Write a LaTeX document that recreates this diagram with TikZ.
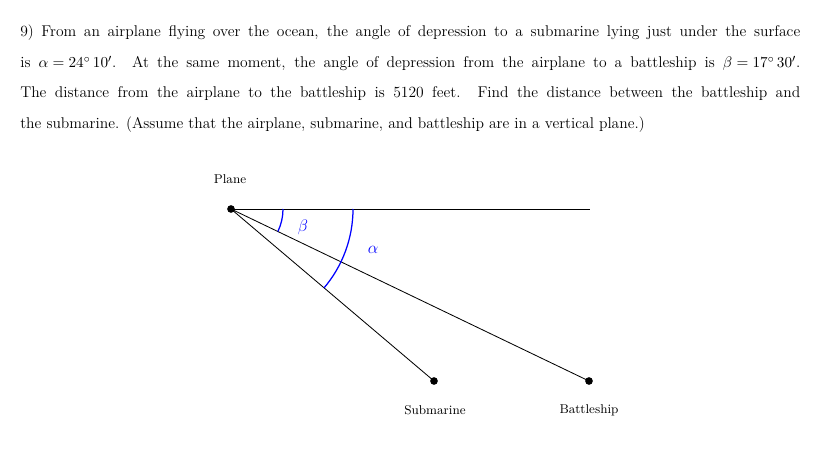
\documentclass[tikz,border=0pt]{standalone}
\begin{document}
\begin{tikzpicture}[x=0.72pt,y=-0.72pt,
  txt/.style={anchor=base west,inner sep=0pt,font=\fontsize{11.2}{12}\selectfont},
  lbl/.style={font=\fontsize{9.2}{11}\selectfont,inner sep=0pt},
  glbl/.style={blue,inner sep=0pt,font=\fontsize{12.5}{13}\selectfont},
  dot/.style={circle,fill=black,inner sep=0pt,minimum size=5.5pt},
  arc/.style={blue,line width=0.9pt}]
\useasboundingbox (0,0) rectangle (830,461);
\node[txt] (l1) at (20,37) {\makebox[780\dimexpr0.72pt][s]{9) From an airplane flying over the ocean, the angle of depression to a submarine lying just under the surface}};
\node[txt] (l2) at (20,68) {\makebox[780\dimexpr0.72pt][s]{is \mbox{$\alpha=24^\circ\,10'$}. At the same moment, the angle of depression from the airplane to a battleship is \mbox{$\beta=17^\circ\,30'$}.}};
\node[txt] (l3) at (20,98) {\makebox[780\dimexpr0.72pt][s]{The distance from the airplane to the battleship is 5120 feet. Find the distance between the battleship and}};
\node[txt] (l4) at (20,129) {the submarine. (Assume that the airplane, submarine, and battleship are in a vertical plane.)};
\node[dot] (P) at (231,209) {};
\coordinate (H) at (590,209);
\node[dot] (S) at (434,381) {};
\node[dot] (B) at (589,381) {};
\draw[line width=0.6pt] (P.center) -- (H);
\draw[line width=0.6pt] (P.center) -- (S.center);
\draw[line width=0.6pt] (P.center) -- (B.center);
\draw[arc] (P.center) ++(0:52) arc[start angle=0,end angle=25.66,radius=52];
\draw[arc] (P.center) ++(0:122) arc[start angle=0,end angle=40.28,radius=122];
\node[lbl] (pl) at (230,179) {Plane};
\node[lbl] (sl) at (435,410) {Submarine};
\node[lbl] (bl) at (589,410) {Battleship};
\node[glbl] (be) at (303,227) {$\beta$};
\node[glbl] (al) at (373,250) {$\alpha$};
\end{tikzpicture}
\end{document}
